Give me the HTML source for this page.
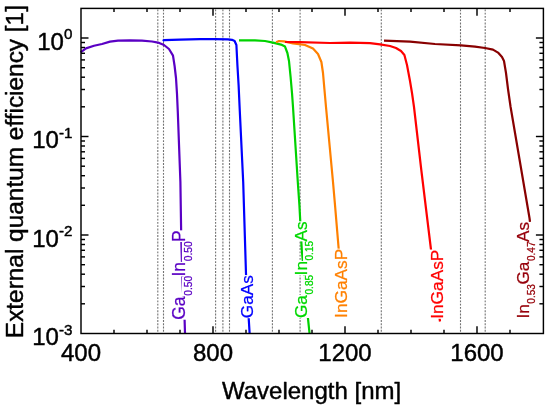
<!DOCTYPE html>
<html><head><meta charset="utf-8"><title>External quantum efficiency</title>
<style>html,body{margin:0;padding:0;background:#fff}svg{display:block}text{font-family:"Liberation Sans",Arial,sans-serif;stroke-width:.45px;stroke-linejoin:round}</style>
</head><body>
<svg width="550" height="410" viewBox="0 0 550 410">
<defs><filter id="b" x="-5%" y="-5%" width="110%" height="110%"><feGaussianBlur stdDeviation="0.35"/></filter></defs>
<rect width="550" height="410" fill="#fff"/>
<g filter="url(#b)">
<g stroke="#5a5a5a" stroke-width="1.1" stroke-opacity=".85" stroke-dasharray="1.9 1.37" fill="none">
<line x1="157.8" y1="9.4" x2="157.8" y2="333.5"/>
<line x1="163.5" y1="9.4" x2="163.5" y2="333.5"/>
<line x1="215.6" y1="9.4" x2="215.6" y2="333.5"/>
<line x1="222.9" y1="9.4" x2="222.9" y2="333.5"/>
<line x1="229.5" y1="9.4" x2="229.5" y2="333.5"/>
<line x1="272.4" y1="9.4" x2="272.4" y2="333.5"/>
<line x1="300.1" y1="9.4" x2="300.1" y2="333.5"/>
<line x1="381.3" y1="9.4" x2="381.3" y2="333.5"/>
<line x1="460.5" y1="9.4" x2="460.5" y2="333.5"/>
<line x1="485.2" y1="9.4" x2="485.2" y2="333.5"/>
</g>
<path d="M80.6 52.4 L86.0 48.4 L94.0 45.8 L102.0 44.0 L110.0 41.6 L118.0 40.6 L130.0 40.3 L142.0 40.7 L152.0 41.5 L158.0 42.6 L164.0 45.0 L169.0 49.0 L173.0 55.6 L174.6 66.0 L176.0 78.0 L177.0 94.0 L177.8 112.0 L180.4 182.0 L181.2 235.0 L182.5 283.0 L184.6 320.0 L185.0 333.0" fill="none" stroke="#5a00c4" stroke-width="2.2" stroke-linejoin="round" stroke-linecap="butt"/>
<path d="M162.8 41.0 L164.0 40.2 L180.0 39.6 L200.0 39.2 L215.0 39.1 L228.0 39.3 L232.0 39.8 L234.6 41.0 L236.4 45.0 L237.4 65.0 L238.6 85.0 L239.6 107.0 L243.2 182.0 L246.0 274.0 L249.6 333.0" fill="none" stroke="#0000ff" stroke-width="2.2" stroke-linejoin="round" stroke-linecap="butt"/>
<path d="M239.0 40.4 L255.0 40.4 L265.0 41.0 L273.0 42.6 L281.0 44.6 L285.0 46.6 L287.4 53.0 L289.0 61.0 L290.6 77.0 L292.0 93.0 L293.0 107.0 L297.8 182.0 L299.4 205.0 L300.2 220.0 L301.8 250.0 L308.0 318.6 L309.5 333.0" fill="none" stroke="#00d200" stroke-width="2.2" stroke-linejoin="round" stroke-linecap="butt"/>
<path d="M276.0 42.2 L279.0 41.0 L284.0 41.4 L293.0 43.4 L305.0 45.0 L313.0 48.6 L318.0 54.0 L321.4 62.0 L323.0 73.0 L324.4 89.0 L326.0 107.0 L333.0 182.0 L335.0 205.0 L338.7 249.0 L342.0 290.0" fill="none" stroke="#ff8000" stroke-width="2.2" stroke-linejoin="round" stroke-linecap="butt"/>
<path d="M285.0 42.0 L300.0 42.2 L330.0 43.0 L350.0 42.6 L370.0 43.2 L380.0 44.4 L390.0 46.0 L396.0 48.0 L401.0 51.0 L404.4 55.0 L407.0 65.0 L410.0 81.0 L412.0 93.0 L414.0 107.0 L421.3 170.0 L430.8 248.0 L440.0 321.5" fill="none" stroke="#ff0000" stroke-width="2.2" stroke-linejoin="round" stroke-linecap="butt"/>
<path d="M384.0 40.6 L410.0 41.6 L435.0 44.0 L461.0 45.4 L475.0 46.6 L485.0 48.0 L493.0 49.6 L498.0 52.6 L502.0 57.0 L504.0 61.0 L506.0 73.0 L508.0 89.0 L510.6 107.0 L529.5 218.0 L530.0 222.0" fill="none" stroke="#880006" stroke-width="2.2" stroke-linejoin="round" stroke-linecap="butt"/>
<rect x="169.51" y="296.42" width="19.49" height="23.28" fill="#fff"/>
<rect x="181.90" y="276.48" width="12.38" height="19.95" fill="#fff"/>
<rect x="169.51" y="261.92" width="19.49" height="14.55" fill="#fff"/>
<rect x="181.90" y="241.98" width="12.38" height="19.95" fill="#fff"/>
<rect x="169.51" y="230.34" width="19.49" height="11.64" fill="#fff"/>
<text transform="translate(185.3 319.7) rotate(-90)" font-size="17.45" fill="#5a00c4" stroke="#5a00c4" style="stroke-width:.25px">Ga</text>
<text transform="translate(192.1 295.8) rotate(-90) scale(1 1.1)" font-size="10.25" fill="#5a00c4" stroke="#5a00c4" style="stroke-width:.25px">0.50</text>
<text transform="translate(185.3 276.5) rotate(-90)" font-size="17.45" fill="#5a00c4" stroke="#5a00c4" style="stroke-width:.25px">In</text>
<text transform="translate(192.1 261.3) rotate(-90) scale(1 1.1)" font-size="10.25" fill="#5a00c4" stroke="#5a00c4" style="stroke-width:.25px">0.50</text>
<text transform="translate(185.3 242.0) rotate(-90)" font-size="17.45" fill="#5a00c4" stroke="#5a00c4" style="stroke-width:.25px">P</text>
<rect x="236.99" y="275.06" width="19.27" height="43.14" fill="#fff"/>
<text transform="translate(252.6 318.2) rotate(-90)" font-size="17.25" fill="#0000ff" stroke="#0000ff" style="stroke-width:.25px">GaAs</text>
<rect x="291.03" y="295.06" width="19.21" height="22.94" fill="#fff"/>
<rect x="303.05" y="275.40" width="12.20" height="19.65" fill="#fff"/>
<rect x="291.03" y="261.06" width="19.21" height="14.34" fill="#fff"/>
<rect x="303.05" y="241.40" width="12.20" height="19.65" fill="#fff"/>
<rect x="291.03" y="221.33" width="19.21" height="20.07" fill="#fff"/>
<text transform="translate(306.6 318.0) rotate(-90)" font-size="17.2" fill="#00d800" stroke="#00d800" style="stroke-width:.25px">Ga</text>
<text transform="translate(313.1 294.5) rotate(-90) scale(1 1.1)" font-size="10.1" fill="#00d800" stroke="#00d800" style="stroke-width:.25px">0.85</text>
<text transform="translate(306.6 275.4) rotate(-90)" font-size="17.2" fill="#00d800" stroke="#00d800" style="stroke-width:.25px">In</text>
<text transform="translate(313.1 260.5) rotate(-90) scale(1 1.1)" font-size="10.1" fill="#00d800" stroke="#00d800" style="stroke-width:.25px">0.15</text>
<text transform="translate(306.6 241.4) rotate(-90)" font-size="17.2" fill="#00d800" stroke="#00d800" style="stroke-width:.25px">As</text>
<rect x="330.84" y="248.67" width="19.32" height="69.23" fill="#fff"/>
<text transform="translate(346.5 317.9) rotate(-90)" font-size="17.3" fill="#ff8000" stroke="#ff8000" style="stroke-width:.25px">InGaAsP</text>
<rect x="427.24" y="249.57" width="19.32" height="69.23" fill="#fff"/>
<text transform="translate(442.9 318.8) rotate(-90)" font-size="17.3" fill="#ff0000" stroke="#ff0000" style="stroke-width:.25px">InGaAsP</text>
<rect x="513.43" y="304.26" width="19.21" height="14.34" fill="#fff"/>
<rect x="525.05" y="284.60" width="12.20" height="19.65" fill="#fff"/>
<rect x="513.43" y="261.66" width="19.21" height="22.94" fill="#fff"/>
<rect x="525.05" y="242.00" width="12.20" height="19.65" fill="#fff"/>
<rect x="513.43" y="221.93" width="19.21" height="20.07" fill="#fff"/>
<text transform="translate(529.0 318.6) rotate(-90)" font-size="17.2" fill="#960008" stroke="#960008" style="stroke-width:.25px">In</text>
<text transform="translate(535.1 303.7) rotate(-90) scale(1 1.1)" font-size="10.1" fill="#960008" stroke="#960008" style="stroke-width:.25px">0.53</text>
<text transform="translate(529.0 284.6) rotate(-90)" font-size="17.2" fill="#960008" stroke="#960008" style="stroke-width:.25px">Ga</text>
<text transform="translate(535.1 261.1) rotate(-90) scale(1 1.1)" font-size="10.1" fill="#960008" stroke="#960008" style="stroke-width:.25px">0.47</text>
<text transform="translate(529.0 242.0) rotate(-90)" font-size="17.2" fill="#960008" stroke="#960008" style="stroke-width:.25px">As</text>
<rect x="81.0" y="8.4" width="462.4" height="325.1" fill="none" stroke="#000" stroke-width="1.45"/>
<g stroke="#000" stroke-width="1.45">
<line x1="114.0" y1="333.5" x2="114.0" y2="329.8"/>
<line x1="114.0" y1="8.4" x2="114.0" y2="12.100000000000001"/>
<line x1="147.0" y1="333.5" x2="147.0" y2="329.8"/>
<line x1="147.0" y1="8.4" x2="147.0" y2="12.100000000000001"/>
<line x1="180.0" y1="333.5" x2="180.0" y2="329.8"/>
<line x1="180.0" y1="8.4" x2="180.0" y2="12.100000000000001"/>
<line x1="213.0" y1="333.5" x2="213.0" y2="326.2"/>
<line x1="213.0" y1="8.4" x2="213.0" y2="15.7"/>
<line x1="246.0" y1="333.5" x2="246.0" y2="329.8"/>
<line x1="246.0" y1="8.4" x2="246.0" y2="12.100000000000001"/>
<line x1="279.0" y1="333.5" x2="279.0" y2="329.8"/>
<line x1="279.0" y1="8.4" x2="279.0" y2="12.100000000000001"/>
<line x1="312.0" y1="333.5" x2="312.0" y2="329.8"/>
<line x1="312.0" y1="8.4" x2="312.0" y2="12.100000000000001"/>
<line x1="345.0" y1="333.5" x2="345.0" y2="326.2"/>
<line x1="345.0" y1="8.4" x2="345.0" y2="15.7"/>
<line x1="378.0" y1="333.5" x2="378.0" y2="329.8"/>
<line x1="378.0" y1="8.4" x2="378.0" y2="12.100000000000001"/>
<line x1="411.0" y1="333.5" x2="411.0" y2="329.8"/>
<line x1="411.0" y1="8.4" x2="411.0" y2="12.100000000000001"/>
<line x1="444.0" y1="333.5" x2="444.0" y2="329.8"/>
<line x1="444.0" y1="8.4" x2="444.0" y2="12.100000000000001"/>
<line x1="477.0" y1="333.5" x2="477.0" y2="326.2"/>
<line x1="477.0" y1="8.4" x2="477.0" y2="15.7"/>
<line x1="510.0" y1="333.5" x2="510.0" y2="329.8"/>
<line x1="510.0" y1="8.4" x2="510.0" y2="12.100000000000001"/>
<line x1="81.0" y1="303.8" x2="85.0" y2="303.8"/>
<line x1="543.4" y1="303.8" x2="539.4" y2="303.8"/>
<line x1="81.0" y1="286.5" x2="85.0" y2="286.5"/>
<line x1="543.4" y1="286.5" x2="539.4" y2="286.5"/>
<line x1="81.0" y1="274.2" x2="85.0" y2="274.2"/>
<line x1="543.4" y1="274.2" x2="539.4" y2="274.2"/>
<line x1="81.0" y1="264.7" x2="85.0" y2="264.7"/>
<line x1="543.4" y1="264.7" x2="539.4" y2="264.7"/>
<line x1="81.0" y1="256.9" x2="85.0" y2="256.9"/>
<line x1="543.4" y1="256.9" x2="539.4" y2="256.9"/>
<line x1="81.0" y1="250.3" x2="85.0" y2="250.3"/>
<line x1="543.4" y1="250.3" x2="539.4" y2="250.3"/>
<line x1="81.0" y1="244.5" x2="85.0" y2="244.5"/>
<line x1="543.4" y1="244.5" x2="539.4" y2="244.5"/>
<line x1="81.0" y1="239.5" x2="85.0" y2="239.5"/>
<line x1="543.4" y1="239.5" x2="539.4" y2="239.5"/>
<line x1="81.0" y1="235.0" x2="88.5" y2="235.0"/>
<line x1="543.4" y1="235.0" x2="535.9" y2="235.0"/>
<line x1="81.0" y1="205.3" x2="85.0" y2="205.3"/>
<line x1="543.4" y1="205.3" x2="539.4" y2="205.3"/>
<line x1="81.0" y1="188.0" x2="85.0" y2="188.0"/>
<line x1="543.4" y1="188.0" x2="539.4" y2="188.0"/>
<line x1="81.0" y1="175.7" x2="85.0" y2="175.7"/>
<line x1="543.4" y1="175.7" x2="539.4" y2="175.7"/>
<line x1="81.0" y1="166.2" x2="85.0" y2="166.2"/>
<line x1="543.4" y1="166.2" x2="539.4" y2="166.2"/>
<line x1="81.0" y1="158.4" x2="85.0" y2="158.4"/>
<line x1="543.4" y1="158.4" x2="539.4" y2="158.4"/>
<line x1="81.0" y1="151.8" x2="85.0" y2="151.8"/>
<line x1="543.4" y1="151.8" x2="539.4" y2="151.8"/>
<line x1="81.0" y1="146.0" x2="85.0" y2="146.0"/>
<line x1="543.4" y1="146.0" x2="539.4" y2="146.0"/>
<line x1="81.0" y1="141.0" x2="85.0" y2="141.0"/>
<line x1="543.4" y1="141.0" x2="539.4" y2="141.0"/>
<line x1="81.0" y1="136.5" x2="88.5" y2="136.5"/>
<line x1="543.4" y1="136.5" x2="535.9" y2="136.5"/>
<line x1="81.0" y1="106.8" x2="85.0" y2="106.8"/>
<line x1="543.4" y1="106.8" x2="539.4" y2="106.8"/>
<line x1="81.0" y1="89.5" x2="85.0" y2="89.5"/>
<line x1="543.4" y1="89.5" x2="539.4" y2="89.5"/>
<line x1="81.0" y1="77.2" x2="85.0" y2="77.2"/>
<line x1="543.4" y1="77.2" x2="539.4" y2="77.2"/>
<line x1="81.0" y1="67.7" x2="85.0" y2="67.7"/>
<line x1="543.4" y1="67.7" x2="539.4" y2="67.7"/>
<line x1="81.0" y1="59.9" x2="85.0" y2="59.9"/>
<line x1="543.4" y1="59.9" x2="539.4" y2="59.9"/>
<line x1="81.0" y1="53.3" x2="85.0" y2="53.3"/>
<line x1="543.4" y1="53.3" x2="539.4" y2="53.3"/>
<line x1="81.0" y1="47.5" x2="85.0" y2="47.5"/>
<line x1="543.4" y1="47.5" x2="539.4" y2="47.5"/>
<line x1="81.0" y1="42.5" x2="85.0" y2="42.5"/>
<line x1="543.4" y1="42.5" x2="539.4" y2="42.5"/>
<line x1="81.0" y1="38.0" x2="88.5" y2="38.0"/>
<line x1="543.4" y1="38.0" x2="535.9" y2="38.0"/>
</g>
<text x="81.0" y="360.6" font-size="24" text-anchor="middle" fill="#000" stroke="#000">400</text>
<text x="213.0" y="360.6" font-size="24" text-anchor="middle" fill="#000" stroke="#000">800</text>
<text x="345.0" y="360.6" font-size="24" text-anchor="middle" fill="#000" stroke="#000">1200</text>
<text x="477.0" y="360.6" font-size="24" text-anchor="middle" fill="#000" stroke="#000">1600</text>
<text x="72.4" y="49.6" font-size="24" text-anchor="end" fill="#000" stroke="#000">10<tspan font-size="15.2" dy="-10.3">0</tspan></text>
<text x="72.4" y="148.1" font-size="24" text-anchor="end" fill="#000" stroke="#000">10<tspan font-size="15.2" dy="-10.3">-1</tspan></text>
<text x="72.4" y="246.6" font-size="24" text-anchor="end" fill="#000" stroke="#000">10<tspan font-size="15.2" dy="-10.3">-2</tspan></text>
<text x="72.4" y="345.1" font-size="24" text-anchor="end" fill="#000" stroke="#000">10<tspan font-size="15.2" dy="-10.3">-3</tspan></text>
<text x="311.6" y="398.8" font-size="24" text-anchor="middle" fill="#000" stroke="#000">Wavelength [nm]</text>
<text transform="translate(23.4 171.6) rotate(-90)" font-size="24.4" text-anchor="middle" fill="#000" stroke="#000">External quantum efficiency [1]</text>
</g>
</svg>
</body></html>
